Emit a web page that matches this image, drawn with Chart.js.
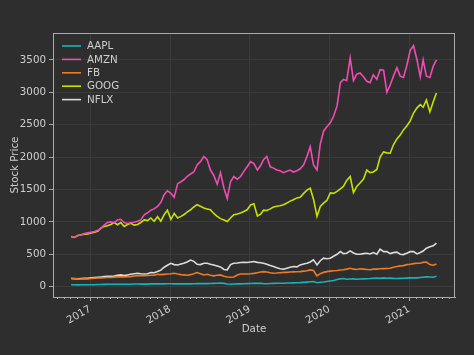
<!DOCTYPE html>
<html><head><meta charset="utf-8">
<script src="https://cdn.jsdelivr.net/npm/chart.js@4.4.0/dist/chart.umd.min.js"></script>
<style>html,body{margin:0;padding:0;background:#2e2e2e;overflow:hidden}</style>
</head><body>
<canvas id="c" width="474" height="355"></canvas>
<script>
const dates = [
"2016-10-05","2016-10-20","2016-11-05","2016-11-20","2016-12-05","2016-12-20",
"2017-01-05","2017-01-20","2017-02-05","2017-02-20","2017-03-05","2017-03-20","2017-04-05","2017-04-20","2017-05-05","2017-05-20","2017-06-05","2017-06-20",
"2017-07-05","2017-07-20","2017-08-05","2017-08-20","2017-09-05","2017-09-20","2017-10-05","2017-10-20","2017-11-05","2017-11-20","2017-12-05","2017-12-20",
"2018-01-05","2018-01-20","2018-02-05","2018-02-20","2018-03-05","2018-03-20","2018-04-05","2018-04-20","2018-05-05","2018-05-20","2018-06-05","2018-06-20",
"2018-07-05","2018-07-20","2018-08-05","2018-08-20","2018-09-05","2018-09-20","2018-10-05","2018-10-20","2018-11-05","2018-11-20","2018-12-05","2018-12-20",
"2019-01-05","2019-01-20","2019-02-05","2019-02-20","2019-03-05","2019-03-20","2019-04-05","2019-04-20","2019-05-05","2019-05-20","2019-06-05","2019-06-20",
"2019-07-05","2019-07-20","2019-08-05","2019-08-20","2019-09-05","2019-09-20","2019-10-05","2019-10-20","2019-11-05","2019-11-20","2019-12-05","2019-12-20",
"2020-01-05","2020-01-20","2020-02-05","2020-02-20","2020-03-05","2020-03-20","2020-04-05","2020-04-20","2020-05-05","2020-05-20","2020-06-05","2020-06-20",
"2020-07-05","2020-07-20","2020-08-05","2020-08-20","2020-09-05","2020-09-20","2020-10-05","2020-10-20","2020-11-05","2020-11-20","2020-12-05","2020-12-20",
"2021-01-05","2021-01-20","2021-02-05","2021-02-20","2021-03-05","2021-03-20","2021-04-05","2021-04-20","2021-05-05"
];
const AAPL = [28,28,27,28,29,29,30,30,33,34,
 35,36,36,37,38,38,36,37,38,40,
 40,39,40,39,42,43,43,42,42,44,
 44,42,43,44,43,42,43,44,46,47,
 46,47,48,50,53,55,50,40,38,40,
 42,43,45,47,48,50,50,52,47,45,
 48,50,52,52,53,55,56,58,60,62,
 66,70,75,78,60,68,72,80,88,95,
 110,120,125,115,118,120,113,118,120,122,
 125,130,133,128,135,130,132,128,125,128,
 130,132,135,138,135,140,145,150,148,145,
 160];
const AMZN = [770,760,790,800,820,830,840,850,870,905,
 950,990,1000,985,1030,1040,990,975,985,995,
 1010,1030,1110,1140,1180,1200,1240,1300,1420,1480,
 1440,1380,1590,1620,1650,1700,1740,1770,1880,1930,
 2010,1960,1800,1720,1580,1760,1520,1360,1620,1700,
 1660,1700,1780,1850,1930,1900,1800,1870,1960,2010,
 1850,1830,1800,1790,1760,1780,1800,1770,1790,1820,
 1880,2010,2160,1880,1800,2200,2400,2470,2530,2630,
 2790,3150,3200,3180,3530,3180,3280,3300,3240,3170,
 3150,3270,3200,3350,3340,3000,3110,3250,3380,3250,
 3230,3410,3650,3720,3500,3240,3500,3250,3230,3400,
 3500];
const FB = [128,125,120,118,120,118,125,130,133,135,
 138,140,142,145,150,152,150,153,155,165,
 170,172,170,172,175,178,190,185,190,195,
 200,207,195,185,181,175,185,200,217,200,
 181,190,175,166,175,181,160,148,145,150,
 180,195,195,196,200,205,215,225,232,225,
 215,207,210,215,220,220,225,228,230,232,
 240,245,258,250,166,200,220,232,240,245,
 250,258,260,270,284,270,265,275,270,265,
 260,270,270,275,278,280,285,300,310,320,
 325,340,345,355,360,362,375,380,340,330,
 350];
const GOOG = [775,760,790,800,810,815,830,840,860,905,
 930,940,960,990,955,990,930,960,980,950,
 960,990,1030,1020,1060,1010,1080,1010,1110,1180,
 1040,1130,1060,1085,1110,1150,1187,1230,1265,1240,
 1213,1200,1187,1130,1084,1050,1030,1006,1060,1110,
 1120,1136,1160,1187,1260,1280,1090,1120,1180,1175,
 1200,1230,1240,1250,1265,1290,1320,1342,1370,1380,
 1440,1490,1520,1350,1084,1238,1290,1330,1446,1440,
 1471,1510,1548,1640,1700,1450,1548,1600,1660,1800,
 1760,1770,1810,2000,2080,2065,2060,2190,2280,2340,
 2420,2480,2560,2680,2760,2810,2770,2880,2700,2850,
 2990];
const NFLX = [125,122,120,125,128,130,135,140,145,150,155,158,160,165,175,181,170,180,
 190,200,207,200,195,200,217,215,235,255,
 300,330,360,340,335,350,360,380,410,390,345,340,360,360,345,335,320,305,265,260,
 340,360,
 365,372,375,372,380,387,375,370,362,345,
 325,310,290,275,270,285,300,310,305,336,
 350,362,380,413,336,400,439,430,439,470,
 500,542,510,516,552,520,501,500,510,516,
 505,526,500,578,540,542,510,525,532,500,
 495,516,540,542,505,526,550,594,615,630,
 671];
const seriesNames = ['AAPL','AMZN','FB','GOOG','NFLX'];
const seriesValues = [AAPL, AMZN, FB, GOOG, NFLX];
const seriesColors = ['#19b3b6','#f04cb2','#ee7b24','#c6e000','#dcdcdc'];
const yearTicks = ['2017','2018','2019','2020','2021'];
const yTicks = [0,500,1000,1500,2000,2500,3000,3500];
const X_MIN = '2016-07-14', X_MAX = '2021-07-29';
const Y_MIN = -160, Y_MAX = 3916;

const FIG_BG = '#2e2e2e', AX_BG = '#2e2e2e';
const TXT = '#cfcfcf', SPINE = '#aaaaaa', GRID = '#3b3b3b';
const FONT = {family: 'DejaVu Sans', size: 10.3};

const xs = dates.map(d => Date.parse(d));
const datasets = seriesNames.map((n, k) => ({
  label: n,
  data: xs.map((x, i) => ({x: x, y: seriesValues[k][i]})),
  borderColor: seriesColors[k],
  backgroundColor: seriesColors[k],
  borderWidth: 1.6,
  pointRadius: 0,
  tension: 0,
  fill: false
}));

const bgPlugin = {
  id: 'bg',
  beforeDraw(chart) {
    const c = chart.ctx, a = chart.chartArea;
    c.save();
    c.fillStyle = FIG_BG; c.fillRect(0, 0, chart.width, chart.height);
    c.fillStyle = AX_BG; c.fillRect(a.left, a.top, a.right - a.left, a.bottom - a.top);
    c.restore();
  }
};
const framePlugin = {
  id: 'frame',
  afterDraw(chart) {
    const c = chart.ctx, a = chart.chartArea, xsScale = chart.scales.x;
    c.save();
    c.strokeStyle = SPINE; c.lineWidth = 1;
    c.strokeRect(a.left + 0.5, a.top + 0.5, a.right - a.left - 1, a.bottom - a.top);
    // monthly minor ticks
    for (let y = 2016; y <= 2021; y++) {
      for (let m = 1; m < 12; m++) {
        const t = Date.UTC(y, m, 1);
        const px = xsScale.getPixelForValue(t);
        if (px < a.left || px > a.right) continue;
        c.beginPath();
        c.moveTo(Math.round(px) + 0.5, a.bottom);
        c.lineTo(Math.round(px) + 0.5, a.bottom + 2);
        c.stroke();
      }
    }
    // legend
    c.font = FONT.size + 'px ' + FONT.family;
    c.textBaseline = 'middle';
    c.textAlign = 'left';
    chart.data.datasets.forEach((ds, i) => {
      const y = a.top + 13 + i * 13.4;
      c.strokeStyle = ds.borderColor; c.lineWidth = 1.6;
      c.beginPath(); c.moveTo(a.left + 9, y); c.lineTo(a.left + 28, y); c.stroke();
      c.fillStyle = TXT;
      c.fillText(ds.label, a.left + 34, y + 0.5);
    });
    c.restore();
  }
};

new Chart(document.getElementById('c'), {
  type: 'line',
  data: {datasets},
  plugins: [bgPlugin, framePlugin],
  options: {
    responsive: false,
    animation: false,
    devicePixelRatio: 1,
    layout: {padding: {top: 33, right: 19, left: 0, bottom: 0}},
    plugins: {legend: {display: false}, tooltip: {enabled: false}},
    scales: {
      x: {
        type: 'linear',
        min: Date.parse(X_MIN), max: Date.parse(X_MAX),
        afterBuildTicks: s => { s.ticks = yearTicks.map(y => ({value: Date.parse(y + '-01-01')})); },
        afterFit: s => { s.height = 58; },
        ticks: {
          callback: v => String(new Date(v).getUTCFullYear()),
          color: TXT, font: FONT, minRotation: 30, maxRotation: 30, autoSkip: false, padding: 2
        },
        grid: {color: GRID, tickColor: SPINE, tickLength: 4, lineWidth: 1},
        border: {color: SPINE, width: 1},
        title: {display: true, text: 'Date', color: TXT, font: FONT, padding: {top: 0, bottom: 19}}
      },
      y: {
        min: Y_MIN, max: Y_MAX,
        afterBuildTicks: s => { s.ticks = yTicks.map(v => ({value: v})); },
        afterFit: s => { s.width = 53; },
        ticks: {callback: v => String(v), color: TXT, font: FONT, padding: 3},
        grid: {color: GRID, tickColor: SPINE, tickLength: 4, lineWidth: 1},
        border: {color: SPINE, width: 1},
        title: {display: true, text: 'Stock Price', color: TXT, font: FONT, padding: {top: 9, bottom: 0}}
      }
    }
  }
});
</script>
</body></html>
